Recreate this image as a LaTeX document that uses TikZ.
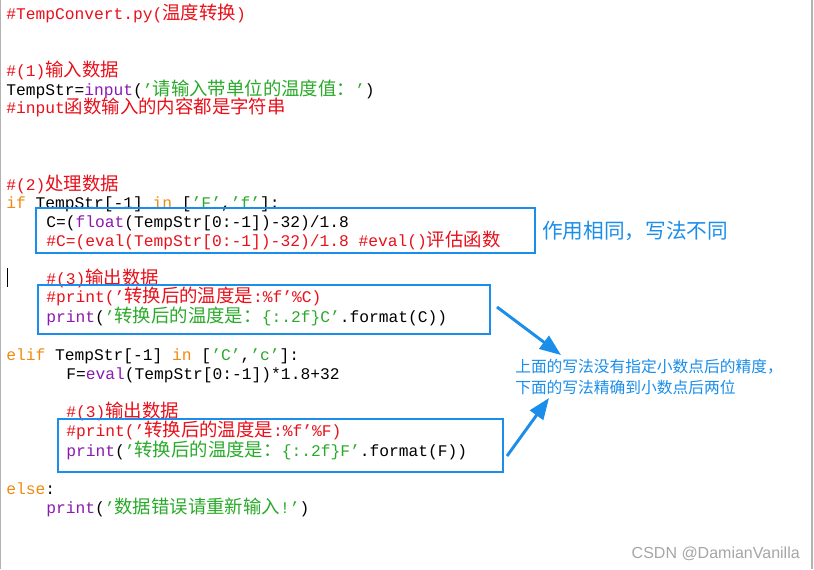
\documentclass[tikz,border=0pt]{standalone}
\usepackage{fontspec}
\setmainfont{Liberation Mono}
\newfontfamily\cjk{Noto Sans CJK SC}
\usetikzlibrary{arrows.meta}
\definecolor{cr}{HTML}{E8101A}
\definecolor{cp}{HTML}{8A1AB0}
\definecolor{cg}{HTML}{2AAA2A}
\definecolor{co}{HTML}{F08A10}
\definecolor{bl}{HTML}{1A8EEA}
\newcommand{\zh}[1]{{\cjk\fontsize{13.8pt}{15pt}\selectfont #1}}
\begin{document}
\begin{tikzpicture}[x=0.75pt,y=-0.75pt,
  code/.style={anchor=base west,inner sep=0,font=\fontsize{12.2pt}{14pt}\selectfont},
  hbox/.style={draw=bl,line width=2.2pt},
  note/.style={anchor=base west,inner sep=0,text=bl},
  bigarrow/.style={draw=bl,line width=2.2pt,-{Triangle[length=16pt,width=12pt]}}]
\useasboundingbox (0,0) rectangle (814,569);
\fill[white] (0,0) rectangle (814,569);
\draw[gray!60,line width=0.8pt] (0.5,0) -- (0.5,569);
\draw[gray!60,line width=0.8pt] (812,0) -- (812,569);
\node[code] (l1) at (6,19) {\color{cr}\#TempConvert.py(\zh{温度转换})};
\node[code] (l2) at (6,76) {\color{cr}\#(1)\zh{输入数据}};
\node[code] (l3) at (6,95) {TempStr=\textcolor{cp}{input}(\textcolor{cg}{'\zh{请输入带单位的温度值：}'})};
\node[code] (l4) at (6,113) {\color{cr}\#input\zh{函数输入的内容都是字符串}};
\node[code] (l5) at (6,190) {\color{cr}\#(2)\zh{处理数据}};
\node[code] (l6) at (6,208) {\textcolor{co}{if} TempStr[-1] \textcolor{co}{in} [\textcolor{cg}{'F'},\textcolor{cg}{'f'}]:};
\node[code] (l7) at (46,227) {C=(\textcolor{cp}{float}(TempStr[0:-1])-32)/1.8};
\node[code] (l8) at (46,246) {\color{cr}\#C=(eval(TempStr[0:-1])-32)/1.8 \#eval()\zh{评估函数}};
\node[code] (l9) at (46,284) {\color{cr}\#(3)\zh{输出数据}};
\node[code] (l10) at (46,302) {\color{cr}\#print('\zh{转换后的温度是}:\%f'\%C)};
\node[code] (l11) at (46,322) {\textcolor{cp}{print}(\textcolor{cg}{'\zh{转换后的温度是：}\{:.2f\}C'}.format(C))};
\node[code] (l12) at (6,360) {\textcolor{co}{elif} TempStr[-1] \textcolor{co}{in} [\textcolor{cg}{'C'},\textcolor{cg}{'c'}]:};
\node[code] (l13) at (66,379) {F=\textcolor{cp}{eval}(TempStr[0:-1])*1.8+32};
\node[code] (l14) at (66,417) {\color{cr}\#(3)\zh{输出数据}};
\node[code] (l15) at (66,436) {\color{cr}\#print('\zh{转换后的温度是}:\%f'\%F)};
\node[code] (l16) at (66,456) {\textcolor{cp}{print}(\textcolor{cg}{'\zh{转换后的温度是：}\{:.2f\}F'}.format(F))};
\node[code] (l17) at (6,494) {\textcolor{co}{else}:};
\node[code] (l18) at (46,513) {\textcolor{cp}{print}(\textcolor{cg}{'\zh{数据错误请重新输入}!'})};
\draw[black,line width=0.6pt] (7,268) -- (7,287);
\draw[hbox] (36,208) rectangle (535,253);
\draw[hbox] (38,285) rectangle (490,334);
\draw[hbox] (58,419) rectangle (503,472);
\node[note,font=\cjk\fontsize{15.5pt}{17pt}\selectfont] (n1) at (542,238) {作用相同，写法不同};
\node[note,font=\cjk\fontsize{11.8pt}{13pt}\selectfont] (n2) at (515,372) {上面的写法没有指定小数点后的精度，};
\node[note,font=\cjk\fontsize{11.8pt}{13pt}\selectfont] (n3) at (515,393) {下面的写法精确到小数点后两位};
\coordinate (a1s) at (497,307);
\coordinate (a1e) at (561,355);
\coordinate (a2s) at (507,456);
\coordinate (a2e) at (549,398);
\draw[bigarrow] (a1s) -- (a1e);
\draw[bigarrow] (a2s) -- (a2e);
\node[anchor=base east,inner sep=0,text=gray!70,font=\fontsize{12pt}{14pt}\selectfont] (wm) at (800,558) {\setmainfont{Liberation Sans}CSDN @DamianVanilla};
\end{tikzpicture}
\end{document}
